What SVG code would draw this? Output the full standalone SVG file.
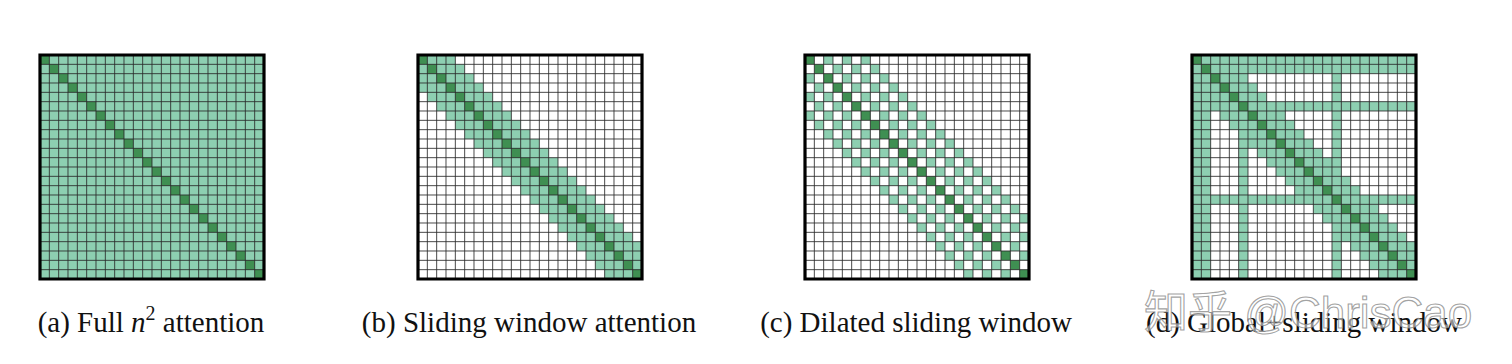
<svg xmlns="http://www.w3.org/2000/svg" xmlns:xlink="http://www.w3.org/1999/xlink" width="1512" height="364" viewBox="0 0 1512 364">
<style>
.lt{fill:#8dcfb1}
.dk{fill:#3f8f52}
.grid{fill:none;stroke:#2a2a2a;stroke-width:1;vector-effect:non-scaling-stroke;stroke-opacity:0.85}
.frame{fill:none;stroke:#000;stroke-width:3.2;vector-effect:non-scaling-stroke}
.lbl{font-family:"Liberation Serif","Times New Roman",serif;font-size:29px;fill:#111;text-anchor:middle}
.wm{font-family:"Liberation Sans","Noto Sans CJK SC",sans-serif;font-size:44px;fill:#fff;fill-opacity:0.55;stroke:#8a8a8a;stroke-width:1.1;stroke-opacity:0.8}
</style>
<defs>
<path id="gridp" class="grid" d="M0 1H24M0 2H24M0 3H24M0 4H24M0 5H24M0 6H24M0 7H24M0 8H24M0 9H24M0 10H24M0 11H24M0 12H24M0 13H24M0 14H24M0 15H24M0 16H24M0 17H24M0 18H24M0 19H24M0 20H24M0 21H24M0 22H24M0 23H24M1 0V24M2 0V24M3 0V24M4 0V24M5 0V24M6 0V24M7 0V24M8 0V24M9 0V24M10 0V24M11 0V24M12 0V24M13 0V24M14 0V24M15 0V24M16 0V24M17 0V24M18 0V24M19 0V24M20 0V24M21 0V24M22 0V24M23 0V24"/>
<path id="diag" class="dk" d="M0 0h1v1h-1zm1 1h1v1h-1zm1 1h1v1h-1zm1 1h1v1h-1zm1 1h1v1h-1zm1 1h1v1h-1zm1 1h1v1h-1zm1 1h1v1h-1zm1 1h1v1h-1zm1 1h1v1h-1zm1 1h1v1h-1zm1 1h1v1h-1zm1 1h1v1h-1zm1 1h1v1h-1zm1 1h1v1h-1zm1 1h1v1h-1zm1 1h1v1h-1zm1 1h1v1h-1zm1 1h1v1h-1zm1 1h1v1h-1zm1 1h1v1h-1zm1 1h1v1h-1zm1 1h1v1h-1zm1 1h1v1h-1z"/>
<path id="band" class="lt" d="M0 0H4V1H5V2H6V3H7V4H8V5H9V6H10V7H11V8H12V9H13V10H14V11H15V12H16V13H17V14H18V15H19V16H20V17H21V18H22V19H23V20H24V24H20V23H19V22H18V21H17V20H16V19H15V18H14V17H13V16H12V15H11V14H10V13H9V12H8V11H7V10H6V9H5V8H4V7H3V6H2V5H1V4H0Z"/>
<rect id="frm" class="frame" x="0" y="0" width="24" height="24"/>
</defs>
<rect width="1512" height="364" fill="#fff"/>

<g id="panel-a">
<g transform="translate(40,55) scale(9.3333)">
<rect class="lt" x="0" y="0" width="24" height="24"/>
<use xlink:href="#diag"/>
<use xlink:href="#gridp"/>
<use xlink:href="#frm"/>
</g>
<text class="lbl" x="151" y="332">(a) Full <tspan font-family="'Liberation Serif',serif" font-style="italic">n</tspan><tspan font-size="20" dy="-12">2</tspan><tspan dy="12"> attention</tspan></text>
</g>

<g id="panel-b">
<g transform="translate(418,55) scale(9.3333)">
<rect x="0" y="0" width="24" height="24" fill="#fff"/>
<use xlink:href="#band"/>
<use xlink:href="#diag"/>
<use xlink:href="#gridp"/>
<use xlink:href="#frm"/>
</g>
<text class="lbl" x="529" y="332">(b) Sliding window attention</text>
</g>

<g id="panel-c">
<g transform="translate(805,55) scale(9.3333)">
<rect x="0" y="0" width="24" height="24" fill="#fff"/>
<path class="lt" d="M2 0h1v1h-1zM4 0h1v1h-1zM6 0h1v1h-1zM3 1h1v1h-1zM5 1h1v1h-1zM7 1h1v1h-1zM0 2h1v1h-1zM4 2h1v1h-1zM6 2h1v1h-1zM8 2h1v1h-1zM1 3h1v1h-1zM5 3h1v1h-1zM7 3h1v1h-1zM9 3h1v1h-1zM0 4h1v1h-1zM2 4h1v1h-1zM6 4h1v1h-1zM8 4h1v1h-1zM10 4h1v1h-1zM1 5h1v1h-1zM3 5h1v1h-1zM7 5h1v1h-1zM9 5h1v1h-1zM11 5h1v1h-1zM0 6h1v1h-1zM2 6h1v1h-1zM4 6h1v1h-1zM8 6h1v1h-1zM10 6h1v1h-1zM12 6h1v1h-1zM1 7h1v1h-1zM3 7h1v1h-1zM5 7h1v1h-1zM9 7h1v1h-1zM11 7h1v1h-1zM13 7h1v1h-1zM2 8h1v1h-1zM4 8h1v1h-1zM6 8h1v1h-1zM10 8h1v1h-1zM12 8h1v1h-1zM14 8h1v1h-1zM3 9h1v1h-1zM5 9h1v1h-1zM7 9h1v1h-1zM11 9h1v1h-1zM13 9h1v1h-1zM15 9h1v1h-1zM4 10h1v1h-1zM6 10h1v1h-1zM8 10h1v1h-1zM12 10h1v1h-1zM14 10h1v1h-1zM16 10h1v1h-1zM5 11h1v1h-1zM7 11h1v1h-1zM9 11h1v1h-1zM13 11h1v1h-1zM15 11h1v1h-1zM17 11h1v1h-1zM6 12h1v1h-1zM8 12h1v1h-1zM10 12h1v1h-1zM14 12h1v1h-1zM16 12h1v1h-1zM18 12h1v1h-1zM7 13h1v1h-1zM9 13h1v1h-1zM11 13h1v1h-1zM15 13h1v1h-1zM17 13h1v1h-1zM19 13h1v1h-1zM8 14h1v1h-1zM10 14h1v1h-1zM12 14h1v1h-1zM16 14h1v1h-1zM18 14h1v1h-1zM20 14h1v1h-1zM9 15h1v1h-1zM11 15h1v1h-1zM13 15h1v1h-1zM17 15h1v1h-1zM19 15h1v1h-1zM21 15h1v1h-1zM10 16h1v1h-1zM12 16h1v1h-1zM14 16h1v1h-1zM18 16h1v1h-1zM20 16h1v1h-1zM22 16h1v1h-1zM11 17h1v1h-1zM13 17h1v1h-1zM15 17h1v1h-1zM19 17h1v1h-1zM21 17h1v1h-1zM23 17h1v1h-1zM12 18h1v1h-1zM14 18h1v1h-1zM16 18h1v1h-1zM20 18h1v1h-1zM22 18h1v1h-1zM13 19h1v1h-1zM15 19h1v1h-1zM17 19h1v1h-1zM21 19h1v1h-1zM23 19h1v1h-1zM14 20h1v1h-1zM16 20h1v1h-1zM18 20h1v1h-1zM22 20h1v1h-1zM15 21h1v1h-1zM17 21h1v1h-1zM19 21h1v1h-1zM23 21h1v1h-1zM16 22h1v1h-1zM18 22h1v1h-1zM20 22h1v1h-1zM17 23h1v1h-1zM19 23h1v1h-1zM21 23h1v1h-1z"/>
<use xlink:href="#diag"/>
<use xlink:href="#gridp"/>
<use xlink:href="#frm"/>
</g>
<text class="lbl" x="916" y="332">(c) Dilated sliding window</text>
</g>

<g id="panel-d">
<g transform="translate(1192,55) scale(9.3333)">
<rect x="0" y="0" width="24" height="24" fill="#fff"/>
<use xlink:href="#band"/>
<rect class="lt" x="0" y="0" width="24" height="2"/>
<rect class="lt" x="0" y="5" width="24" height="1"/>
<rect class="lt" x="0" y="15" width="24" height="1"/>
<rect class="lt" x="0" y="0" width="2" height="24"/>
<rect class="lt" x="5" y="0" width="1" height="24"/>
<rect class="lt" x="15" y="0" width="1" height="24"/>
<use xlink:href="#diag"/>
<use xlink:href="#gridp"/>
<use xlink:href="#frm"/>
</g>
<text class="lbl" x="1304" y="332">(d) Global+sliding window</text>
</g>

<g id="watermark">
<text class="wm" x="1144" y="328">知乎 @ChrisCao</text>
</g>
</svg>
